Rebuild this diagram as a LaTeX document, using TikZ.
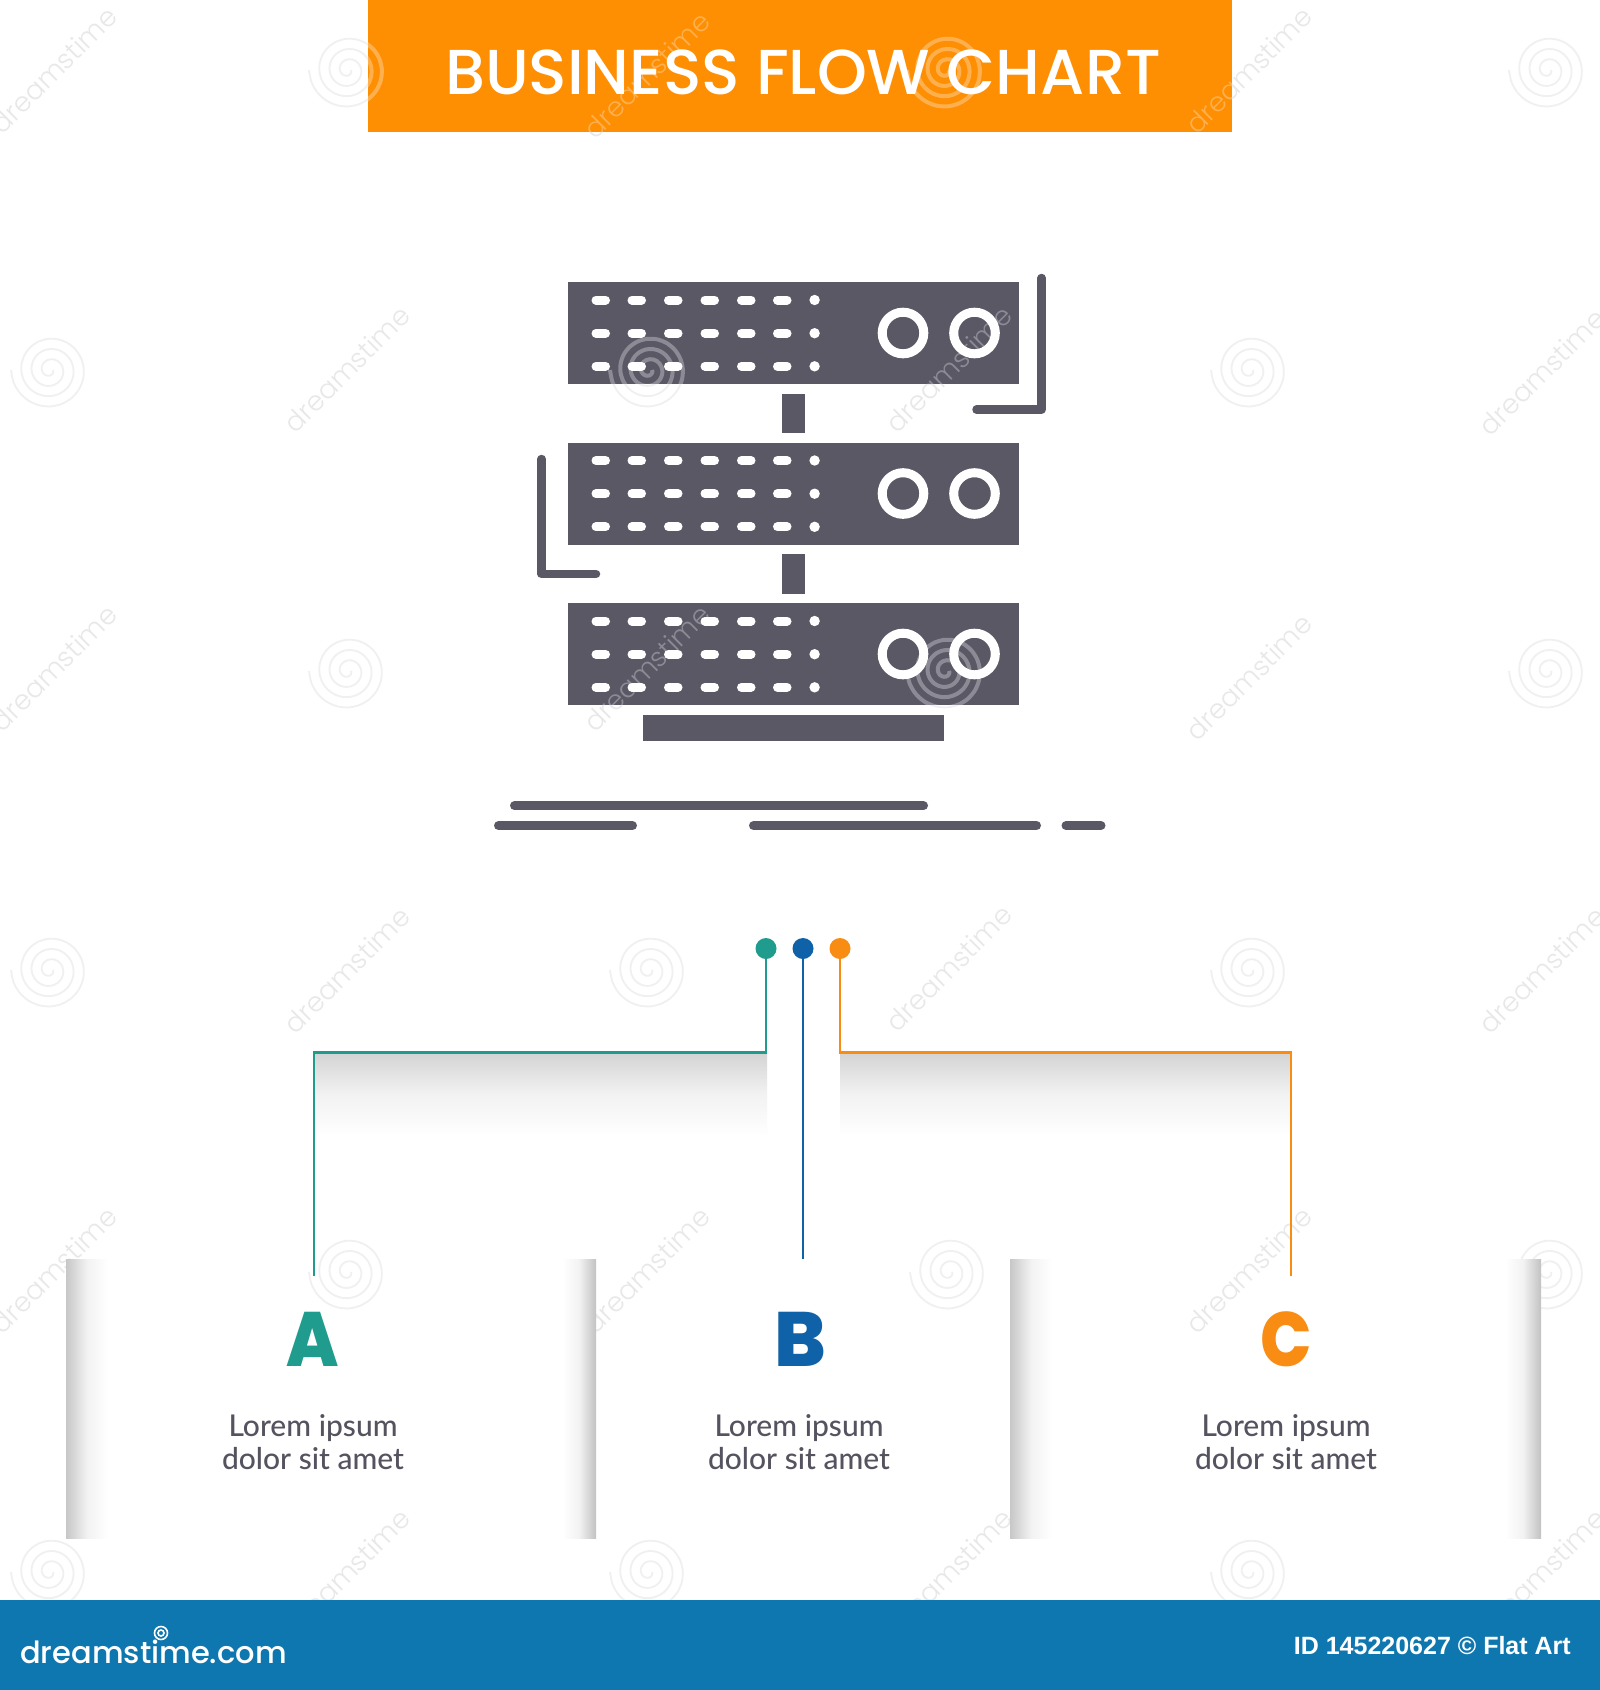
\documentclass[tikz,border=0pt]{standalone}
\usepackage{fontspec}
\setmainfont{Lato Medium}
\newfontfamily\titlefont{Poppins Medium}
\newfontfamily\letfont{Poppins ExtraBold}
\newfontfamily\brandfont{Poppins Medium}
\newfontfamily\footfont{Liberation Sans}
\newfontfamily\wmfont{Poppins Light}
\definecolor{srv}{HTML}{5B5866}
\definecolor{orng}{HTML}{FE8E02}
\definecolor{teal2}{HTML}{1F9C8E}
\definecolor{blue2}{HTML}{0F62A8}
\definecolor{orng2}{HTML}{F98C12}
\definecolor{foot}{HTML}{0F77AF}
\definecolor{bodytxt}{HTML}{55535F}
\tikzset{
  server/.style={fill=srv,draw=none},
  slot/.style={draw=white,line width=9pt,line cap=round},
  ledring/.style={draw=white,line width=9pt},
  glyphline/.style={draw=srv,line width=8.5pt,line cap=round,line join=round},
  floor/.style={draw=srv,line width=9pt,line cap=round},
  pin/.style={circle,inner sep=0pt,minimum size=21pt},
  lead/.style={line width=2.4pt},
  letter/.style={inner sep=0pt,anchor=base,font=\letfont\fontsize{77}{77}\selectfont},
  lorem/.style={inner sep=0pt,anchor=base,text=bodytxt,font=\fontsize{30}{30}\selectfont},
  wmtext/.style={inner sep=0pt,rotate=45,font=\wmfont\fontsize{27}{27}\selectfont},
  bandshade/.style={top color=black!17,bottom color=white,middle color=black!5},
  leftshade/.style={left color=black!22,right color=white,middle color=black!5},
  rightshade/.style={left color=white,right color=black!24,middle color=black!5},
}
\newcommand{\wmwidth}{1.8pt}
\newcommand{\wmspiral}[2]{%
  \draw[line width=\wmwidth] plot[smooth,domain=0:1260,samples=70,variable=\a]
    ({#1+(3+\a/1260*36)*cos(\a)},{#2+(3+\a/1260*36)*sin(\a)});}
\newcommand{\wmall}{%
  \foreach \px/\py in {348/70,946/70,1548/70,50/370,649/370,1250/370,348/671,946/671,1548/671,
      50/970,649/970,1250/970,348/1272,949/1272,1548/1272,50/1572,649/1572,1250/1572}
    {\wmspiral{\px}{\py}}
  \foreach \px/\py in {54/70,647/75,1249/70,347/369,949/369,1542/372,54/668,647/668,1249/677,
      347/970,949/968,1542/970,54/1270,647/1270,1249/1270,347/1572,949/1572,1542/1572}
    {\node[wmtext] at (\px,\py) {dreamstime};}
}
\begin{document}
\begin{tikzpicture}[x=1pt,y=-1pt]
\useasboundingbox (0,0) rectangle (1600,1690);
\fill[white] (0,0) rectangle (1600,1690);
% faint watermark on the paper
\begin{scope}[draw=black!6,text=black!9]
\wmall
\end{scope}
% header
\fill[orng] (368,0) rectangle (1232,131.5);
\node[inner sep=0pt,anchor=base,text=white,font=\titlefont\fontsize{63.5}{64}\selectfont] (title) at (803,94) {BUSINESS FLOW CHART};
% footer
\fill[foot] (0,1600) rectangle (1600,1690);
\node[inner sep=0pt,anchor=base west,text=white,font=\brandfont\fontsize{30.5}{31}\selectfont] (brand) at (20,1663) {dreamstime.com};
\node[inner sep=0pt,anchor=base east,text=white,font=\footfont\bfseries\fontsize{25}{25}\selectfont] (credit) at (1571,1654) {ID 145220627 © Flat Art};
\draw[white,line width=1.6pt] (161,1633) circle (6.5pt) (161,1633) circle (3pt);
% servers
\foreach \n/\t in {sa/282,sb/442.5,sc/603}{
  \fill[server] (568,\t) rectangle (1019,\t+102);
  \foreach \dy in {18,51.2,84.3}{
    \foreach \xs in {596,632,668.5,705,741.5,777.5}
      \draw[slot] (\xs,\t+\dy) -- (\xs+9.5,\t+\dy);
    \fill[white] (814.6,\t+\dy) circle (5.2pt);
  }
  \draw[ledring] (903,\t+51) circle (20.8pt);
  \draw[ledring] (974.5,\t+51) circle (20.8pt);
}
\fill[server] (782,393.5) rectangle (804.5,433);
\fill[server] (782,554) rectangle (804.5,593.5);
\fill[server] (642.5,714.5) rectangle (944,741);
\draw[glyphline] (1041.6,278) -- (1041.6,409.6) -- (976.5,409.6);
\draw[glyphline] (541.6,459) -- (541.6,574) -- (596,574);
\draw[floor] (514.5,805.7) -- (923.5,805.7);
\draw[floor] (498.5,825.6) -- (632.5,825.6);
\draw[floor] (753.5,825.6) -- (1036.5,825.6);
\draw[floor] (1066,825.6) -- (1101,825.6);
% shadows
\shade[bandshade] (315,1053) rectangle (767,1136);
\shade[bandshade] (840,1053) rectangle (1291,1136);
\shade[leftshade] (66,1259) rectangle (108,1538);
\shade[rightshade] (562,1259) rectangle (596,1538);
\shade[leftshade] (1010,1259) rectangle (1052,1538);
\shade[rightshade] (1505,1259) rectangle (1541,1538);
% connectors
\node[pin,fill=teal2] (pa) at (766,948.5) {};
\node[pin,fill=blue2] (pb) at (803,948.5) {};
\node[pin,fill=orng2] (pc) at (840,948.5) {};
\coordinate (ea) at (314,1276);
\coordinate (eb) at (803,1259);
\coordinate (ec) at (1291,1276);
\draw[lead,teal2] (pa.center) -- (766,1052.6) -- (314,1052.6) -- (ea);
\draw[lead,blue2] (pb.center) -- (eb);
\draw[lead,orng2] (pc.center) -- (840,1052.6) -- (1291,1052.6) -- (ec);
% labels
\node[letter,text=teal2,xscale=.9] (la) at (313,1366) {A};
\node[letter,text=blue2] (lb) at (800,1366) {B};
\node[letter,text=orng2,xscale=.88] (lc) at (1286,1366) {C};
\node[lorem] (ta1) at (313,1436) {Lorem ipsum};
\node[lorem] (ta2) at (313,1469) {dolor sit amet};
\node[lorem] (tb1) at (799,1436) {Lorem ipsum};
\node[lorem] (tb2) at (799,1469) {dolor sit amet};
\node[lorem] (tc1) at (1286,1436) {Lorem ipsum};
\node[lorem] (tc2) at (1286,1469) {dolor sit amet};
% watermark over the dark and coloured shapes
\begin{scope}
\clip (368,0) rectangle (1232,131.5)
      (568,282) rectangle (1019,384)
      (568,442.5) rectangle (1019,544.5)
      (568,603) rectangle (1019,705);
\renewcommand{\wmwidth}{4pt}
\begin{scope}[draw=white,text=white,opacity=.3]
\wmall
\end{scope}
\end{scope}
\end{tikzpicture}
\end{document}
